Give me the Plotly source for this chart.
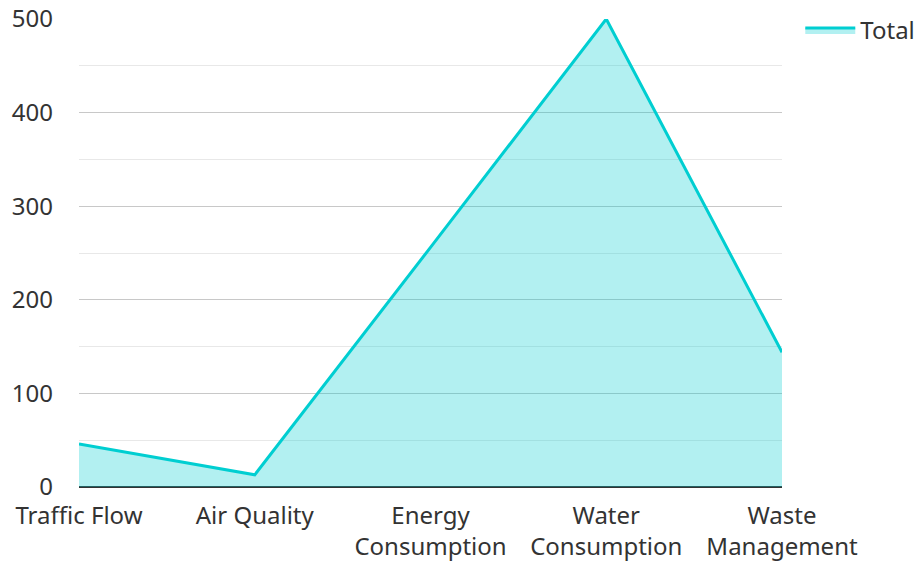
import plotly.graph_objects as go

categories = ["Traffic Flow", "Air Quality", "Energy<br>Consumption", "Water<br>Consumption", "Waste<br>Management"]
totals = [46, 13, 256, 500, 144]

fig = go.Figure()
fig.add_trace(go.Scatter(
    x=categories, y=totals, name="Total", mode="lines",
    line=dict(color="#00CED1", width=3),
    fill="tozeroy", fillcolor="rgba(0,206,209,0.3)",
))

fig.update_layout(
    width=922, height=562,
    margin=dict(l=71, r=148, t=11, b=83, autoexpand=False),
    paper_bgcolor="white", plot_bgcolor="white",
    font=dict(family="Noto Sans", size=24, color="#333333"),
    showlegend=True,
    legend=dict(x=1.026, y=1.0235, xanchor="left", yanchor="top", itemwidth=50,
                font=dict(size=24, color="#333333"), bgcolor="rgba(0,0,0,0)"),
    xaxis=dict(type="category", showgrid=False, range=[0, 4], ticks="", automargin=False,
               tickfont=dict(size=24, color="#333333"), ticklabelstandoff=12,
               ticklabeloverflow="allow", showline=False, zeroline=False),
    yaxis=dict(range=[0, 500], tickvals=[0, 100, 200, 300, 400, 500], showgrid=True,
               gridcolor="#c8c8c8", gridwidth=1, zeroline=True, zerolinecolor="#333333",
               zerolinewidth=2, ticks="", automargin=False, ticklabeloverflow="allow",
               tickfont=dict(size=24, color="#333333"), ticklabelstandoff=25,
               minor=dict(dtick=50, showgrid=True, gridcolor="#e8e8e8", gridwidth=1),
               showline=False),
)
fig.write_html("out.html")
